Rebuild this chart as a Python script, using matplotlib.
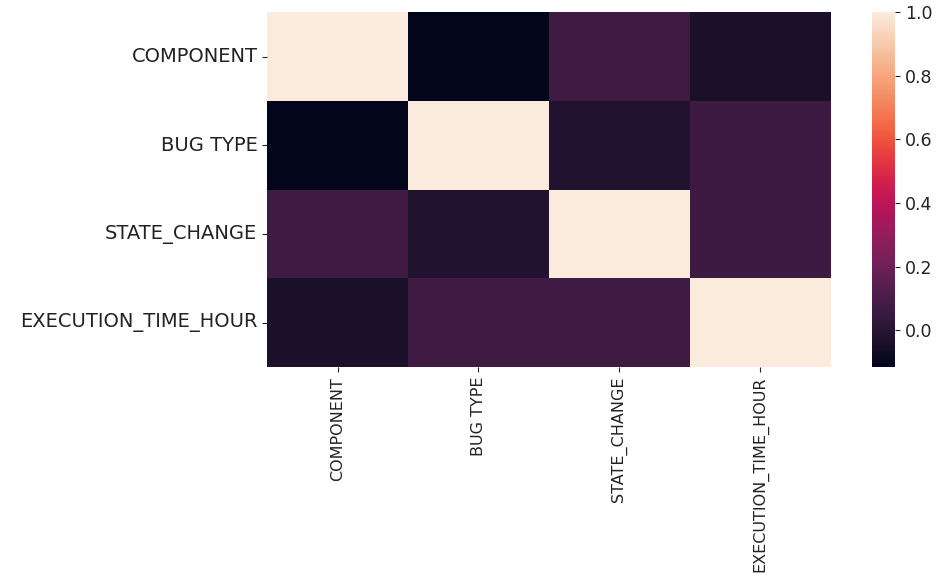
import matplotlib
matplotlib.use('Agg')
import matplotlib.pyplot as plt
import seaborn as sns
import pandas as pd
import numpy as np

labels = ['COMPONENT', 'BUG TYPE', 'STATE_CHANGE', 'EXECUTION_TIME_HOUR']

# correlation matrix
row_component = [1.00, -0.116, 0.07, -0.04]
row_bug_type = [-0.116, 1.00, -0.02, 0.06]
row_state_change = [0.07, -0.02, 1.00, 0.06]
row_exec_hour = [-0.04, 0.07, 0.07, 1.00]

corr = pd.DataFrame([row_component, row_bug_type, row_state_change, row_exec_hour],
                    index=labels, columns=labels)

fig = plt.figure(figsize=(9.44, 5.82), dpi=100)
ax = fig.add_axes([0.283, 0.369, 0.597, 0.610])
cax = fig.add_axes([0.924, 0.369, 0.024, 0.610])

sns.heatmap(corr, ax=ax, cbar_ax=cax)

ax.tick_params(axis='y', labelsize=14, rotation=0, colors='#222222')
ax.tick_params(axis='x', labelsize=11.5, rotation=90, colors='#222222')
cax.tick_params(labelsize=12.5, colors='#222222')

fig.savefig('out.png', dpi=100)
